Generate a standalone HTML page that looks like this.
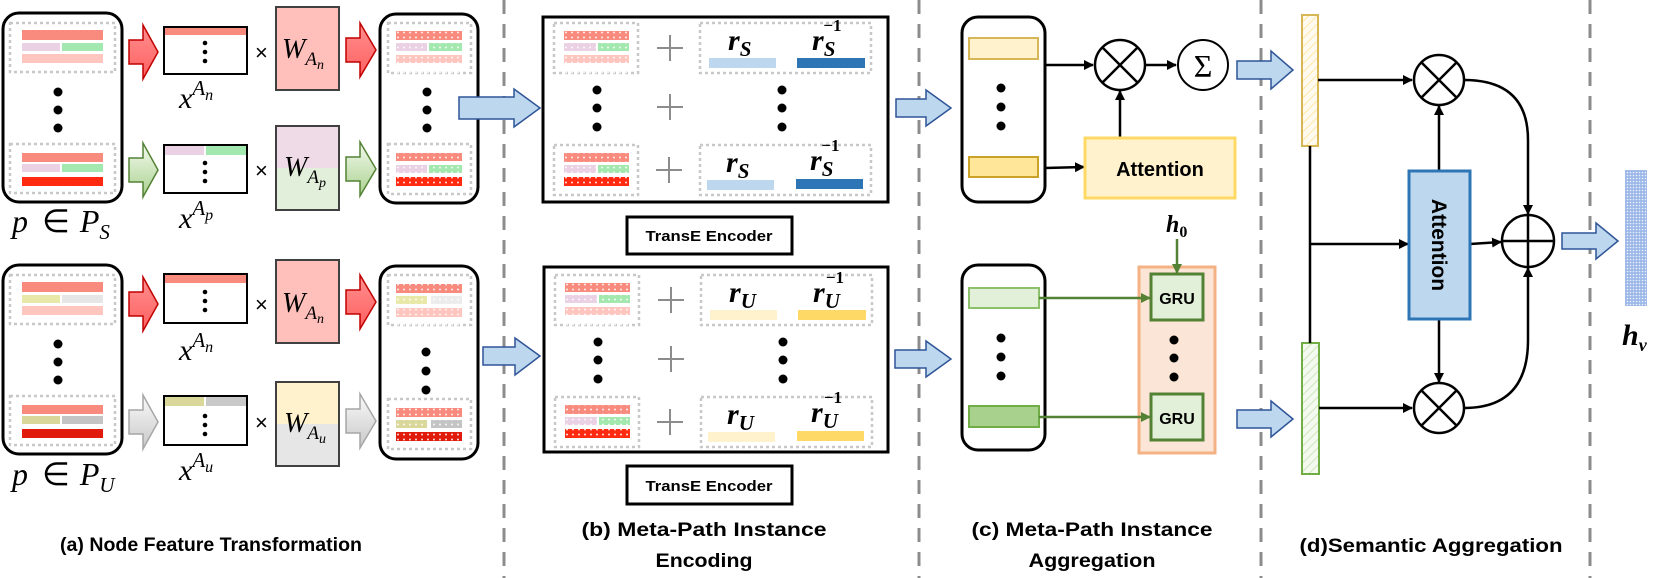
<!DOCTYPE html>
<html><head><meta charset="utf-8"><style>html,body{margin:0;padding:0;background:#fff}svg{display:block}</style></head>
<body>
<svg width="1654" height="578" viewBox="0 0 1654 578" xmlns="http://www.w3.org/2000/svg">
<defs>
<pattern id="dots" width="6" height="5" patternUnits="userSpaceOnUse"><circle cx="2" cy="2.5" r="1" fill="#fff" opacity="0.85"/></pattern>
<pattern id="dots2" width="3" height="3" patternUnits="userSpaceOnUse"><circle cx="1.5" cy="1.5" r="0.8" fill="#fff" opacity="0.8"/></pattern>
<pattern id="hatchY" width="6" height="6" patternUnits="userSpaceOnUse" patternTransform="rotate(45)"><rect width="6" height="6" fill="#fffaf0"/><line x1="0" y1="0" x2="0" y2="6" stroke="#ffe9a8" stroke-width="2"/></pattern>
<pattern id="hatchG" width="6" height="6" patternUnits="userSpaceOnUse" patternTransform="rotate(45)"><rect width="6" height="6" fill="#f4faef"/><line x1="0" y1="0" x2="0" y2="6" stroke="#cfe6bf" stroke-width="2"/></pattern>
<linearGradient id="gG" x1="0" y1="0" x2="0" y2="1"><stop offset="0" stop-color="#f4faef"/><stop offset="1" stop-color="#a9d18e"/></linearGradient>
<linearGradient id="gR" x1="0" y1="0" x2="0" y2="1"><stop offset="0" stop-color="#ff8f8f"/><stop offset="1" stop-color="#ff6060"/></linearGradient>
<linearGradient id="gW" x1="0" y1="0" x2="0" y2="1"><stop offset="0" stop-color="#fafafa"/><stop offset="1" stop-color="#c8c8c8"/></linearGradient>
<marker id="ah" markerWidth="10" markerHeight="10" refX="9" refY="5" orient="auto" markerUnits="userSpaceOnUse"><path d="M0,0 L10,5 L0,10 z" fill="#000"/></marker>
<marker id="ahg" markerWidth="10" markerHeight="10" refX="9" refY="5" orient="auto" markerUnits="userSpaceOnUse"><path d="M0,0 L10,5 L0,10 z" fill="#548235"/></marker>
</defs>

<!-- dashed separators -->
<g stroke="#8c8c8c" stroke-width="3" stroke-dasharray="14 10">
<line x1="504" y1="0" x2="504" y2="578"/><line x1="919" y1="0" x2="919" y2="578"/>
<line x1="1261" y1="0" x2="1261" y2="578"/><line x1="1590" y1="0" x2="1590" y2="578"/>
</g>

<!-- ===== Section (a) top ===== -->
<g font-family="Liberation Serif, serif" font-style="italic">
<rect x="3" y="13" width="119" height="189" rx="16" fill="#fff" stroke="#000" stroke-width="3"/>
<rect x="10" y="23" width="105" height="49" fill="none" stroke="#c8c8c8" stroke-width="2.5" stroke-dasharray="3 3"/>
<rect x="10" y="144" width="105" height="49" fill="none" stroke="#c8c8c8" stroke-width="2.5" stroke-dasharray="3 3"/>
<rect x="22" y="30" width="81" height="10" fill="#f98a7e"/>
<rect x="22" y="43" width="38" height="8" fill="#ead1e4"/><rect x="62" y="43" width="41" height="8" fill="#a3e8ae"/>
<rect x="22" y="54" width="81" height="9" fill="#ffc6c0"/>
<rect x="22" y="153" width="81" height="9" fill="#f98a7e"/>
<rect x="22" y="164" width="38" height="8" fill="#ead1e4"/><rect x="62" y="164" width="41" height="8" fill="#a3e8ae"/>
<rect x="22" y="177" width="81" height="9" fill="#ff2a10"/>
<circle cx="58" cy="92" r="4.5"/><circle cx="58" cy="110" r="4.5"/><circle cx="58" cy="128" r="4.5"/>

<polygon points="129,40 143,40 143,25 158,52 143,79 143,64 129,64" fill="url(#gR)" stroke="#c00000" stroke-width="1.5"/>
<polygon points="129,158 143,158 143,143 158,170 143,197 143,182 129,182" fill="url(#gG)" stroke="#548235" stroke-width="1.5"/>
<rect x="164" y="27" width="83" height="47" fill="#fff" stroke="#000" stroke-width="2"/>
<rect x="165" y="28" width="81" height="7" fill="#f98a7e"/>
<circle cx="205" cy="43" r="2.3"/><circle cx="205" cy="52" r="2.3"/><circle cx="205" cy="61" r="2.3"/>
<rect x="164" y="145" width="83" height="48" fill="#fff" stroke="#000" stroke-width="2"/>
<rect x="165" y="146" width="39" height="9" fill="#ead1e4"/><rect x="206" y="146" width="40" height="9" fill="#a3e8ae"/>
<circle cx="205" cy="163" r="2.3"/><circle cx="205" cy="172" r="2.3"/><circle cx="205" cy="181" r="2.3"/>
<text x="179" y="108" font-size="30">x<tspan font-size="21" dy="-13">A</tspan><tspan font-size="16" dy="5">n</tspan></text>
<text x="179" y="228" font-size="30">x<tspan font-size="21" dy="-13">A</tspan><tspan font-size="16" dy="5">p</tspan></text>
<text x="255" y="60" font-size="22" font-style="normal" font-family="Liberation Sans, sans-serif">×</text>
<text x="255" y="178" font-size="22" font-style="normal" font-family="Liberation Sans, sans-serif">×</text>
<rect x="276" y="7" width="63" height="83" fill="#ffbfbb" stroke="#404040" stroke-width="2"/>
<rect x="276" y="126" width="63" height="42" fill="#efdbe7"/><rect x="276" y="168" width="63" height="42" fill="#e2efda"/>
<rect x="276" y="126" width="63" height="84" fill="none" stroke="#404040" stroke-width="2"/>
<text x="282" y="58" font-size="28">W<tspan font-size="19" dy="7">A</tspan><tspan font-size="14" dy="4">n</tspan></text>
<text x="284" y="176" font-size="28">W<tspan font-size="19" dy="7">A</tspan><tspan font-size="14" dy="4">p</tspan></text>
<polygon points="346,38 360,38 360,23 376,50 360,77 360,62 346,62" fill="url(#gR)" stroke="#c00000" stroke-width="1.5"/>
<polygon points="346,157 360,157 360,142 376,169 360,196 360,181 346,181" fill="url(#gG)" stroke="#548235" stroke-width="1.5"/>
<rect x="380" y="14" width="98" height="189" rx="16" fill="#fff" stroke="#000" stroke-width="3"/>
<rect x="388" y="23" width="83" height="50" fill="none" stroke="#c8c8c8" stroke-width="2.5" stroke-dasharray="3 3"/>
<rect x="388" y="144" width="83" height="50" fill="none" stroke="#c8c8c8" stroke-width="2.5" stroke-dasharray="3 3"/>
<rect x="396" y="31" width="66" height="9" fill="#f98a7e"/>
<rect x="396" y="43" width="31" height="8" fill="#ead1e4"/><rect x="429" y="43" width="33" height="8" fill="#a3e8ae"/>
<rect x="396" y="55" width="66" height="8" fill="#ffc6c0"/>
<rect x="396" y="153" width="66" height="8" fill="#f98a7e"/>
<rect x="396" y="165" width="31" height="8" fill="#ead1e4"/><rect x="429" y="165" width="33" height="8" fill="#a3e8ae"/>
<rect x="396" y="177" width="66" height="9" fill="#ff2a10"/>
<rect x="396" y="31" width="66" height="155" fill="url(#dots)"/>
<circle cx="427" cy="92" r="4.5"/><circle cx="427" cy="110" r="4.5"/><circle cx="427" cy="128" r="4.5"/>
<text x="12" y="232" font-size="32">p<tspan dx="14" font-style="normal">∈</tspan><tspan dx="10">P</tspan><tspan font-size="21" dy="7">S</tspan></text>
</g>

<!-- ===== Section (a) bottom ===== -->
<g font-family="Liberation Serif, serif" font-style="italic" transform="translate(0,252)">
<rect x="3" y="13" width="119" height="189" rx="16" fill="#fff" stroke="#000" stroke-width="3"/>
<rect x="10" y="23" width="105" height="49" fill="none" stroke="#c8c8c8" stroke-width="2.5" stroke-dasharray="3 3"/>
<rect x="10" y="144" width="105" height="49" fill="none" stroke="#c8c8c8" stroke-width="2.5" stroke-dasharray="3 3"/>
<rect x="22" y="30" width="81" height="10" fill="#f98a7e"/>
<rect x="22" y="43" width="38" height="8" fill="#e8e8a8"/><rect x="62" y="43" width="41" height="8" fill="#e7e6e6"/>
<rect x="22" y="54" width="81" height="9" fill="#ffc6c0"/>
<rect x="22" y="153" width="81" height="9" fill="#f98a7e"/>
<rect x="22" y="164" width="38" height="8" fill="#d9d79a"/><rect x="62" y="164" width="41" height="8" fill="#c4c4c4"/>
<rect x="22" y="177" width="81" height="9" fill="#e01b0b"/>
<circle cx="58" cy="92" r="4.5"/><circle cx="58" cy="110" r="4.5"/><circle cx="58" cy="128" r="4.5"/>
<polygon points="129,40 143,40 143,25 158,52 143,79 143,64 129,64" fill="url(#gR)" stroke="#c00000" stroke-width="1.5"/>
<polygon points="129,158 143,158 143,143 158,170 143,197 143,182 129,182" fill="url(#gW)" stroke="#a6a6a6" stroke-width="1.5"/>
<rect x="164" y="22" width="83" height="49" fill="#fff" stroke="#000" stroke-width="2"/>
<rect x="165" y="23" width="81" height="8" fill="#f98a7e"/>
<circle cx="205" cy="40" r="2.3"/><circle cx="205" cy="49" r="2.3"/><circle cx="205" cy="58" r="2.3"/>
<rect x="164" y="144" width="83" height="49" fill="#fff" stroke="#000" stroke-width="2"/>
<rect x="165" y="145" width="39" height="9" fill="#d9d79a"/><rect x="206" y="145" width="40" height="9" fill="#c9c9c9"/>
<circle cx="205" cy="164" r="2.3"/><circle cx="205" cy="173" r="2.3"/><circle cx="205" cy="182" r="2.3"/>
<text x="179" y="108" font-size="30">x<tspan font-size="21" dy="-13">A</tspan><tspan font-size="16" dy="5">n</tspan></text>
<text x="179" y="228" font-size="30">x<tspan font-size="21" dy="-13">A</tspan><tspan font-size="16" dy="5">u</tspan></text>
<text x="255" y="60" font-size="22" font-style="normal" font-family="Liberation Sans, sans-serif">×</text>
<text x="255" y="178" font-size="22" font-style="normal" font-family="Liberation Sans, sans-serif">×</text>
<rect x="276" y="8" width="63" height="83" fill="#ffbfbb" stroke="#404040" stroke-width="2"/>
<rect x="276" y="130" width="63" height="42" fill="#fff2cc"/><rect x="276" y="172" width="63" height="42" fill="#e7e6e6"/>
<rect x="276" y="130" width="63" height="84" fill="none" stroke="#404040" stroke-width="2"/>
<text x="282" y="60" font-size="28">W<tspan font-size="19" dy="7">A</tspan><tspan font-size="14" dy="4">n</tspan></text>
<text x="284" y="180" font-size="28">W<tspan font-size="19" dy="7">A</tspan><tspan font-size="14" dy="4">u</tspan></text>
<polygon points="346,38 360,38 360,23 376,50 360,77 360,62 346,62" fill="url(#gR)" stroke="#c00000" stroke-width="1.5"/>
<polygon points="346,157 360,157 360,142 376,169 360,196 360,181 346,181" fill="url(#gW)" stroke="#a6a6a6" stroke-width="1.5"/>
<rect x="380" y="14" width="98" height="193" rx="16" fill="#fff" stroke="#000" stroke-width="3"/>
<rect x="388" y="23" width="83" height="50" fill="none" stroke="#c8c8c8" stroke-width="2.5" stroke-dasharray="3 3"/>
<rect x="388" y="147" width="83" height="50" fill="none" stroke="#c8c8c8" stroke-width="2.5" stroke-dasharray="3 3"/>
<rect x="396" y="32" width="66" height="9" fill="#f98a7e"/>
<rect x="396" y="44" width="31" height="8" fill="#e8e8a8"/><rect x="431" y="44" width="31" height="8" fill="#ececec"/>
<rect x="396" y="56" width="66" height="9" fill="#ffc6c0"/>
<rect x="396" y="156" width="66" height="9" fill="#f98a7e"/>
<rect x="396" y="168" width="31" height="8" fill="#d9d79a"/><rect x="431" y="168" width="31" height="8" fill="#c4c4c4"/>
<rect x="396" y="180" width="66" height="9" fill="#e01b0b"/>
<rect x="396" y="32" width="66" height="157" fill="url(#dots)"/>
<circle cx="426" cy="100" r="4.5"/><circle cx="426" cy="119" r="4.5"/><circle cx="426" cy="138" r="4.5"/>
<text x="12" y="233" font-size="32">p<tspan dx="14" font-style="normal">∈</tspan><tspan dx="10">P</tspan><tspan font-size="21" dy="7">U</tspan></text>
</g>

<!-- blue arrows -->
<g fill="#bdd7ee" stroke="#2f5597" stroke-width="1.5">
<polygon points="459,97 514,97 514,89 540,108 514,127 514,119 459,119"/>
<polygon points="483,347 515,347 515,338 540,356 515,375 515,365 483,365"/>
<polygon points="896,99 926,99 926,90 951,108 926,126 926,117 896,117"/>
<polygon points="895,350 926,350 926,341 951,359 926,377 926,368 895,368"/>
<polygon points="1237,61 1271,61 1271,51 1293,70 1271,89 1271,79 1237,79"/>
<polygon points="1237,410 1271,410 1271,401 1293,419 1271,437 1271,428 1237,428"/>
<polygon points="1562,233 1596,233 1596,223 1618,241 1596,259 1596,249 1562,249"/>
</g>

<!-- ===== Section (b) ===== -->
<g font-family="Liberation Serif, serif" font-style="italic" font-weight="bold">
<rect x="543" y="17" width="345" height="185" fill="#fff" stroke="#000" stroke-width="3"/>
<rect x="544" y="267" width="344" height="185" fill="#fff" stroke="#000" stroke-width="3"/>
<g id="brows">
<rect x="554" y="23" width="84" height="50" fill="none" stroke="#c8c8c8" stroke-width="2.5" stroke-dasharray="3 3"/>
<rect x="554" y="145" width="84" height="50" fill="none" stroke="#c8c8c8" stroke-width="2.5" stroke-dasharray="3 3"/>
<rect x="564" y="31" width="65" height="9" fill="#f98a7e"/>
<rect x="564" y="43" width="32" height="8" fill="#ead1e4"/><rect x="598" y="43" width="31" height="8" fill="#a3e8ae"/>
<rect x="564" y="55" width="65" height="8" fill="#ffc6c0"/>
<rect x="564" y="153" width="65" height="9" fill="#f98a7e"/>
<rect x="564" y="165" width="32" height="8" fill="#ead1e4"/><rect x="598" y="165" width="31" height="8" fill="#a3e8ae"/>
<rect x="564" y="177" width="65" height="9" fill="#ff2a10"/>
<rect x="564" y="31" width="65" height="155" fill="url(#dots)"/>
<rect x="700" y="23" width="171" height="50" fill="none" stroke="#c8c8c8" stroke-width="2.5" stroke-dasharray="3 3"/>
<rect x="700" y="145" width="171" height="50" fill="none" stroke="#c8c8c8" stroke-width="2.5" stroke-dasharray="3 3"/>
<circle cx="597" cy="90" r="4.5"/><circle cx="597" cy="108" r="4.5"/><circle cx="597" cy="127" r="4.5"/>
<circle cx="782" cy="90" r="4.5"/><circle cx="782" cy="108" r="4.5"/><circle cx="782" cy="127" r="4.5"/>
<g stroke="#8c8c8c" stroke-width="2"><path d="M657,48 H683 M670,35 V61"/><path d="M657,107 H683 M670,94 V120"/><path d="M656,170 H682 M669,157 V183"/></g>
</g>
<use href="#brows" transform="translate(1,252)"/>
<rect x="709" y="58" width="67" height="10" fill="#bdd7ee"/><rect x="797" y="58" width="68" height="10" fill="#2e75b6"/>
<rect x="707" y="180" width="67" height="10" fill="#bdd7ee"/><rect x="796" y="179" width="67" height="10" fill="#2e75b6"/>
<text x="728" y="50" font-size="30">r<tspan font-size="21" dy="6">S</tspan></text>
<text x="812" y="50" font-size="30">r<tspan font-size="21" dy="6">S</tspan><tspan font-size="17" dx="-12" dy="-25" font-style="normal">−1</tspan></text>
<text x="726" y="172" font-size="30">r<tspan font-size="21" dy="6">S</tspan></text>
<text x="810" y="170" font-size="30">r<tspan font-size="21" dy="6">S</tspan><tspan font-size="17" dx="-12" dy="-25" font-style="normal">−1</tspan></text>
<rect x="710" y="310" width="67" height="10" fill="#fff2cc"/><rect x="798" y="310" width="68" height="10" fill="#ffd966"/>
<rect x="708" y="432" width="67" height="10" fill="#fff2cc"/><rect x="797" y="431" width="67" height="10" fill="#ffd966"/>
<text x="729" y="302" font-size="30">r<tspan font-size="21" dy="6">U</tspan></text>
<text x="813" y="302" font-size="30">r<tspan font-size="21" dy="6">U</tspan><tspan font-size="17" dx="-14" dy="-25" font-style="normal">−1</tspan></text>
<text x="727" y="424" font-size="30">r<tspan font-size="21" dy="6">U</tspan></text>
<text x="811" y="422" font-size="30">r<tspan font-size="21" dy="6">U</tspan><tspan font-size="17" dx="-14" dy="-25" font-style="normal">−1</tspan></text>
</g>
<g font-family="Liberation Sans, sans-serif" font-weight="bold" font-size="15" text-anchor="middle">
<rect x="627" y="217" width="165" height="37" fill="#fff" stroke="#000" stroke-width="3"/>
<text x="709" y="241" textLength="127" lengthAdjust="spacingAndGlyphs">TransE Encoder</text>
<rect x="627" y="466" width="165" height="38" fill="#fff" stroke="#000" stroke-width="3"/>
<text x="709" y="491" textLength="127" lengthAdjust="spacingAndGlyphs">TransE Encoder</text>
</g>

<!-- ===== Section (c) ===== -->
<rect x="962" y="17" width="83" height="185" rx="16" fill="#fff" stroke="#000" stroke-width="3"/>
<rect x="969" y="38" width="69" height="21" fill="#fff2cc" stroke="#d6b656" stroke-width="2"/>
<rect x="969" y="157" width="69" height="20" fill="#ffe699" stroke="#c9a227" stroke-width="2"/>
<circle cx="1001" cy="88" r="4.5"/><circle cx="1001" cy="107" r="4.5"/><circle cx="1001" cy="126" r="4.5"/>
<g stroke="#000" stroke-width="2.5" fill="none">
<line x1="1045" y1="65" x2="1093" y2="65" marker-end="url(#ah)"/>
<line x1="1146" y1="65" x2="1176" y2="65" marker-end="url(#ah)"/>
<line x1="1045" y1="168" x2="1084" y2="167" marker-end="url(#ah)"/>
<line x1="1120" y1="138" x2="1120" y2="91" marker-end="url(#ah)"/>
<circle cx="1120" cy="65" r="25" fill="#fff"/>
<path d="M1102,47 L1138,83 M1138,47 L1102,83"/>
<circle cx="1203" cy="65" r="25" fill="#fff" stroke-width="2"/>
</g>
<text x="1203" y="77" font-family="Liberation Serif, serif" font-size="32" text-anchor="middle">Σ</text>
<rect x="1085" y="138" width="150" height="60" fill="#fff2cc" stroke="#ffd966" stroke-width="3"/>
<text x="1160" y="176" font-family="Liberation Sans, sans-serif" font-weight="bold" font-size="20" text-anchor="middle">Attention</text>

<rect x="962" y="265" width="83" height="185" rx="16" fill="#fff" stroke="#000" stroke-width="3"/>
<rect x="969" y="288" width="70" height="20" fill="#e2f0d9" stroke="#8cc06a" stroke-width="2"/>
<rect x="969" y="406" width="70" height="21" fill="#a9d18e" stroke="#70ad47" stroke-width="2"/>
<circle cx="1001" cy="338" r="4.5"/><circle cx="1001" cy="357" r="4.5"/><circle cx="1001" cy="376" r="4.5"/>
<rect x="1139" y="267" width="76" height="186" fill="#fbe5d6" stroke="#f4b183" stroke-width="3"/>
<g stroke="#548235" stroke-width="2.5" fill="none">
<line x1="1039" y1="298" x2="1150" y2="298" marker-end="url(#ahg)"/>
<line x1="1039" y1="417" x2="1150" y2="417" marker-end="url(#ahg)"/>
<line x1="1177" y1="239" x2="1177" y2="273" marker-end="url(#ahg)"/>
</g>
<rect x="1151" y="274" width="52" height="46" fill="#e2f0d9" stroke="#548235" stroke-width="3"/>
<rect x="1151" y="394" width="52" height="46" fill="#e2f0d9" stroke="#548235" stroke-width="3"/>
<g font-family="Liberation Sans, sans-serif" font-weight="bold" font-size="16" text-anchor="middle">
<text x="1177" y="304">GRU</text><text x="1177" y="424">GRU</text></g>
<circle cx="1174" cy="340" r="4.5"/><circle cx="1174" cy="358" r="4.5"/><circle cx="1174" cy="377" r="4.5"/>
<text x="1166" y="232" font-family="Liberation Serif, serif" font-style="italic" font-weight="bold" font-size="24">h<tspan font-size="16" dy="5" font-style="normal">0</tspan></text>

<!-- ===== Section (d) ===== -->
<rect x="1302" y="15" width="16" height="131" fill="url(#hatchY)" stroke="#d6b656" stroke-width="2"/>
<rect x="1302" y="343" width="17" height="131" fill="url(#hatchG)" stroke="#70ad47" stroke-width="2"/>
<g stroke="#000" stroke-width="2.5" fill="none">
<line x1="1310" y1="146" x2="1310" y2="343"/>
<line x1="1318" y1="80" x2="1412" y2="80" marker-end="url(#ah)"/>
<line x1="1310" y1="244" x2="1408" y2="244" marker-end="url(#ah)"/>
<line x1="1319" y1="408" x2="1412" y2="408" marker-end="url(#ah)"/>
<line x1="1439" y1="171" x2="1439" y2="106" marker-end="url(#ah)"/>
<line x1="1439" y1="319" x2="1439" y2="382" marker-end="url(#ah)"/>
<line x1="1470" y1="244" x2="1501" y2="242" marker-end="url(#ah)"/>
<path d="M1464,80 Q1528,80 1528,140 L1528,214" marker-end="url(#ah)"/>
<path d="M1464,408 Q1528,408 1528,340 L1528,268" marker-end="url(#ah)"/>
<circle cx="1439" cy="80" r="25" fill="#fff"/><path d="M1421,62 L1457,98 M1457,62 L1421,98"/>
<circle cx="1439" cy="408" r="25" fill="#fff"/><path d="M1421,390 L1457,426 M1457,390 L1421,426"/>
<circle cx="1528" cy="241" r="26" fill="#fff"/><path d="M1502,241 H1554 M1528,215 V267"/>
</g>
<rect x="1409" y="171" width="61" height="148" fill="#bdd7ee" stroke="#2e75b6" stroke-width="3"/>
<text transform="translate(1432,245) rotate(90)" font-family="Liberation Sans, sans-serif" font-weight="bold" font-size="21" text-anchor="middle">Attention</text>
<rect x="1625" y="170" width="22" height="136" fill="#9db8e8"/>
<rect x="1625" y="170" width="22" height="136" fill="url(#dots2)"/>
<text x="1622" y="345" font-family="Liberation Serif, serif" font-style="italic" font-weight="bold" font-size="30">h<tspan font-size="18" dy="6">v</tspan></text>

<!-- captions -->
<g font-family="Liberation Sans, sans-serif" font-weight="bold" font-size="19" text-anchor="middle">
<text x="211" y="551" textLength="302" lengthAdjust="spacingAndGlyphs">(a)  Node Feature Transformation</text>
<text x="704" y="536" textLength="245" lengthAdjust="spacingAndGlyphs">(b) Meta-Path Instance</text>
<text x="704" y="567" textLength="97" lengthAdjust="spacingAndGlyphs">Encoding</text>
<text x="1092" y="536" textLength="241" lengthAdjust="spacingAndGlyphs">(c) Meta-Path Instance</text>
<text x="1092" y="567" textLength="127" lengthAdjust="spacingAndGlyphs">Aggregation</text>
<text x="1431" y="552" textLength="263" lengthAdjust="spacingAndGlyphs">(d)Semantic Aggregation</text>
</g>
</svg>
</body></html>
